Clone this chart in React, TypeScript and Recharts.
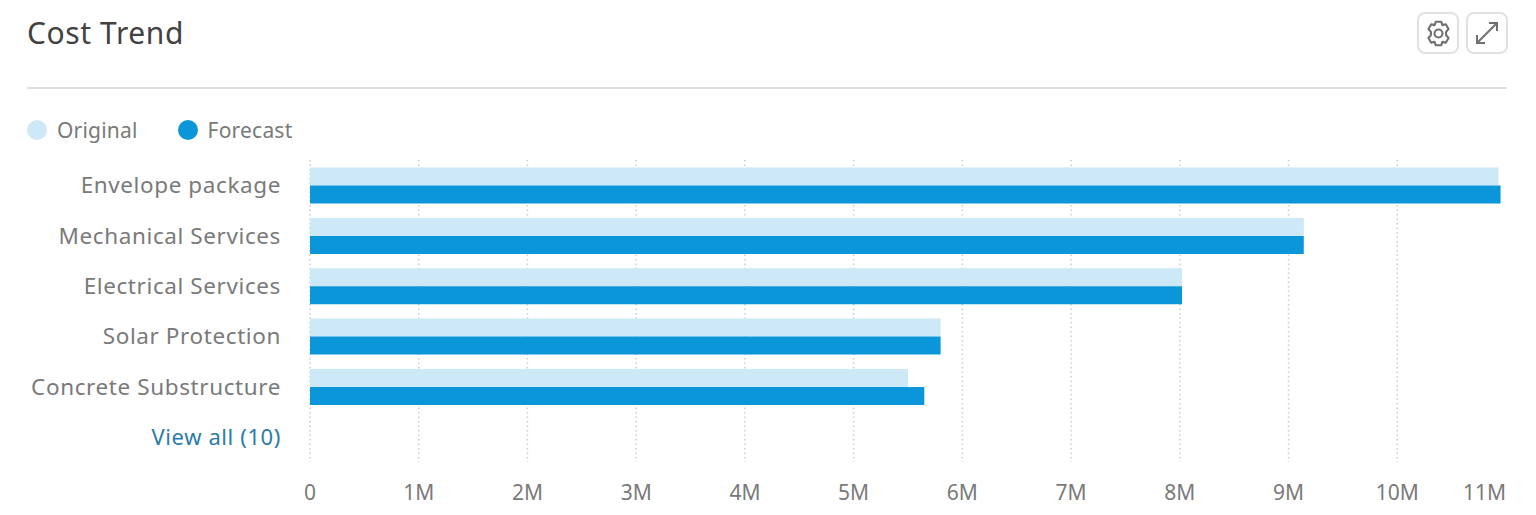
import React from 'react';
import { Bar, BarChart, CartesianGrid, Legend, XAxis, YAxis } from 'recharts';

const categories = [
  'Envelope package',
  'Mechanical Services',
  'Electrical Services',
  'Solar Protection',
  'Concrete Substructure',
  'View all (10)',
];
const originalValues = [10.93, 9.14, 8.02, 5.8, 5.5, null];
const forecastValues = [10.95, 9.14, 8.02, 5.8, 5.65, null];
const xTicks = [0, 1, 2, 3, 4, 5, 6, 7, 8, 9, 10, 11];
const gridTicks = [0, 1, 2, 3, 4, 5, 6, 7, 8, 9, 10];

const data = categories.map((name, i) => ({
  name,
  original: originalValues[i],
  forecast: forecastValues[i],
}));

const FONT = '"Noto Sans", sans-serif';
const LIGHT = '#cde8f6';
const BLUE = '#0a96d9';
const TEXT = '#7a7a7a';

const formatTick = (v: number) => (v === 0 ? '0' : `${v}M`);

const XTick = ({ x, y, payload }: any) => {
  const last = payload.value === xTicks[xTicks.length - 1];
  return (
    <text
      x={x}
      y={y}
      dy={30}
      textAnchor={last ? 'end' : 'middle'}
      fill={TEXT}
      fontSize={21}
      fontFamily={FONT}
    >
      {formatTick(payload.value)}
    </text>
  );
};

const YTick = ({ x, y, payload }: any) => {
  const isLink = payload.value.startsWith('View all');
  return (
    <text
      x={x}
      y={y}
      dy={8}
      textAnchor="end"
      fill={isLink ? '#2b7ba8' : TEXT}
      fontSize={isLink ? 22 : 22.5}
      letterSpacing={0.6}
      fontFamily={FONT}
    >
      {payload.value}
    </text>
  );
};

const LegendContent = ({ payload }: any) => (
  <div style={{ display: 'flex', fontFamily: FONT, fontSize: 21, letterSpacing: 0.2, color: TEXT }}>
    {(payload || []).map((item: any) => (
      <div key={item.value} style={{ display: 'flex', alignItems: 'center', marginRight: 40 }}>
        <span
          style={{
            width: 20,
            height: 20,
            borderRadius: 10,
            background: item.color,
            marginRight: 10,
          }}
        />
        {item.value}
      </div>
    ))}
  </div>
);

const iconBtn = (left: number): React.CSSProperties => ({
  position: 'absolute',
  left,
  top: 12,
  width: 38,
  height: 38,
  border: '2px solid #e2e2e2',
  borderRadius: 8,
  display: 'flex',
  alignItems: 'center',
  justifyContent: 'center',
  boxSizing: 'content-box',
});

export default function App() {
  return (
    <div style={{ position: 'absolute', left: 0, top: 0, width: 1536, height: 515, background: '#fff' }}>
      <div
        style={{
          position: 'absolute',
          left: 27,
          top: 12,
          fontFamily: FONT,
          fontSize: 30,
          letterSpacing: 0.6,
          lineHeight: '42px',
          color: '#424242',
        }}
      >
        Cost Trend
      </div>

      <div style={iconBtn(1417)}>
        <svg width="29" height="29" viewBox="0 0 26 26" fill="none" stroke="#707070" strokeWidth="1.9" strokeLinejoin="round">
          <path d="M10.5 2.5h5l1 3 3-.8 2.5 4.3-2.2 2.5 0 3 2.2 2.5-2.5 4.3-3-.8-1 3h-5l-1-3-3 .8L4 17l2.2-2.5 0-3L4 9l2.5-4.3 3 .8z" />
          <circle cx="13" cy="13" r="3.6" />
        </svg>
      </div>
      <div style={iconBtn(1466)}>
        <svg width="26" height="26" viewBox="0 0 26 26" fill="none" stroke="#707070" strokeWidth="2">
          <path d="M3 23 23 3M15 3H23v8M3 15V23h8" />
        </svg>
      </div>

      <div style={{ position: 'absolute', left: 27, top: 87, width: 1480, height: 2, background: '#dedede' }} />

      <BarChart
        width={1536}
        height={515}
        data={data}
        layout="vertical"
        margin={{ top: 160, right: 30, bottom: 0, left: 0 }}
        barCategoryGap="15%"
        barGap={0}
      >
        <CartesianGrid
          horizontal={false}
          verticalValues={gridTicks}
          stroke="#cccccc"
          strokeWidth={1.5}
          strokeDasharray="1.5 3"
        />
        <XAxis
          type="number"
          domain={[0, 11]}
          ticks={xTicks}
          axisLine={false}
          tickLine={false}
          tick={<XTick />}
          height={53}
          interval={0}
        />
        <YAxis
          type="category"
          dataKey="name"
          width={310}
          axisLine={false}
          tickLine={false}
          tick={<YTick />}
          tickMargin={23}
          interval={0}
        />
        <Legend
          content={<LegendContent />}
          itemSorter={null}
          wrapperStyle={{ position: 'absolute', left: 27, top: 116, width: 500, height: 0 }}
        />
        <Bar dataKey="original" name="Original" fill={LIGHT} isAnimationActive={false} />
        <Bar dataKey="forecast" name="Forecast" fill={BLUE} isAnimationActive={false} />
      </BarChart>
    </div>
  );
}
